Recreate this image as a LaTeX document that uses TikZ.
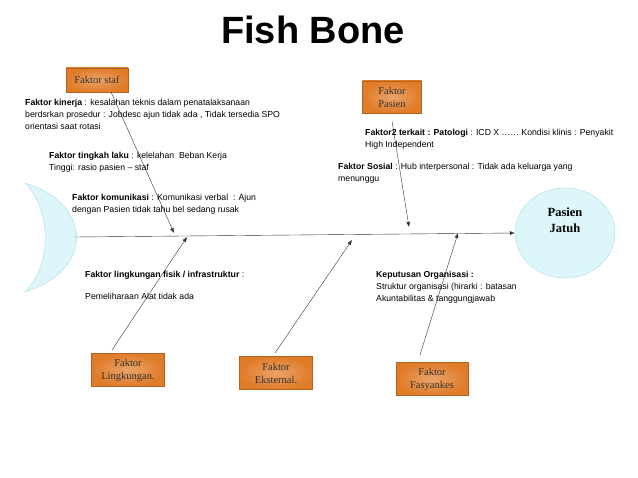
\documentclass[tikz,border=0pt]{standalone}
\usepackage{fontspec}
\setmainfont{Liberation Sans}
\newfontfamily\serifbox{Liberation Serif}
\usetikzlibrary{arrows.meta,shapes.geometric}
\definecolor{boxorange}{HTML}{E07B28}
\definecolor{headcyan}{HTML}{DDF6F9}
\definecolor{headline}{HTML}{A8DCE6}
\tikzset{
  cause/.style={draw=boxorange!80!black, inner color=boxorange!70!white, outer color=boxorange,
    font=\serifbox\fontsize{10.5}{13}\selectfont, text=black!80, align=center, minimum height=24pt, inner sep=2pt},
  note/.style={anchor=north west, align=left, inner sep=0pt, font=\fontsize{8.7}{12}\selectfont},
  bone/.style={-{Latex[length=5pt,width=4pt]}, black!80, thin}
}
\begin{document}
\begin{tikzpicture}[x=1pt,y=-1pt]
    \useasboundingbox (0,0) rectangle (638,478);
    \node[font=\bfseries\fontsize{38}{40}\selectfont] (title) at (313,30) {Fish Bone};

    % tail and head
    \draw [headline, fill=headcyan] (25,183) .. controls (94,205) and (94,270) .. (25,292)
        .. controls (52,265) and (52,210) .. (25,183);
    \node [ellipse, draw=headline, fill=headcyan, minimum width=100pt, minimum height=90pt, inner sep=0pt,
        name=head] at (565,233) {};
    \node [font=\serifbox\bfseries\fontsize{12.5}{16}\selectfont, align=center, name=headtxt] at (565,220) {Pasien\\Jatuh};
    \coordinate (tail) at (75,237);
    \draw [bone] (tail) -- (head.west);

    % causes
    \node [cause, minimum width=62pt] (staf) at (97,80) {Faktor staf};
    \node [cause, minimum width=59pt, minimum height=32pt] (pasien) at (392,97) {Faktor\\Pasien};
    \node [cause, minimum width=73pt, minimum height=33pt] (lingk) at (128,370) {Faktor\\Lingkungan.};
    \node [cause, minimum width=73pt, minimum height=33pt] (ekst) at (276,373) {Faktor\\Eksternal.};
    \node [cause, minimum width=72pt, minimum height=33pt] (fasy) at (432,379) {Faktor\\Fasyankes};

    \coordinate (s1) at (174,233);
    \coordinate (s2) at (409,227);
    \coordinate (s3) at (187,237);
    \coordinate (s4) at (352,240);
    \coordinate (s5) at (458,233);
    \coordinate (b1) at (111,92);
    \coordinate (b2) at (392,121);
    \coordinate (b3) at (112,350);
    \coordinate (b4) at (275,353);
    \coordinate (b5) at (420,355);
    \draw [bone] (b1) -- (s1);
    \draw [bone] (b2) -- (s2);
    \draw [bone] (b3) -- (s3);
    \draw [bone] (b4) -- (s4);
    \draw [bone] (b5) -- (s5);

    % notes
    \node [note] (kinerja) at (25,99) {\textbf{Faktor kinerja} : kesalahan teknis dalam penatalaksanaan\\berdsrkan prosedur : Jobdesc ajun tidak ada , Tidak tersedia SPO\\orientasi saat rotasi};
    \node [note] (laku) at (49,152) {\textbf{Faktor tingkah laku} : kelelahan\ \ Beban Kerja\\Tinggi: rasio pasien -- staf};
    \node [note] (komun) at (72,194) {\textbf{Faktor komunikasi} : Komunikasi verbal\ \ : Ajun\\dengan Pasien tidak tahu bel sedang rusak};
    \node [note] (fisik) at (85,271) {\textbf{Faktor lingkungan fisik / infrastruktur} :\\[10pt]Pemeliharaan Alat tidak ada};
    \node [note] (patol) at (365,129) {\textbf{Faktor2 terkait : Patologi} : ICD X …… Kondisi klinis : Penyakit\\High Independent};
    \node [note] (sosial) at (338,163) {\textbf{Faktor Sosial} : Hub interpersonal : Tidak ada keluarga yang\\menunggu};
    \node [note] (organ) at (376,271) {\textbf{Keputusan Organisasi :}\\Struktur organisasi (hirarki : batasan\\Akuntabilitas \& tanggungjawab};
\end{tikzpicture}
\end{document}
